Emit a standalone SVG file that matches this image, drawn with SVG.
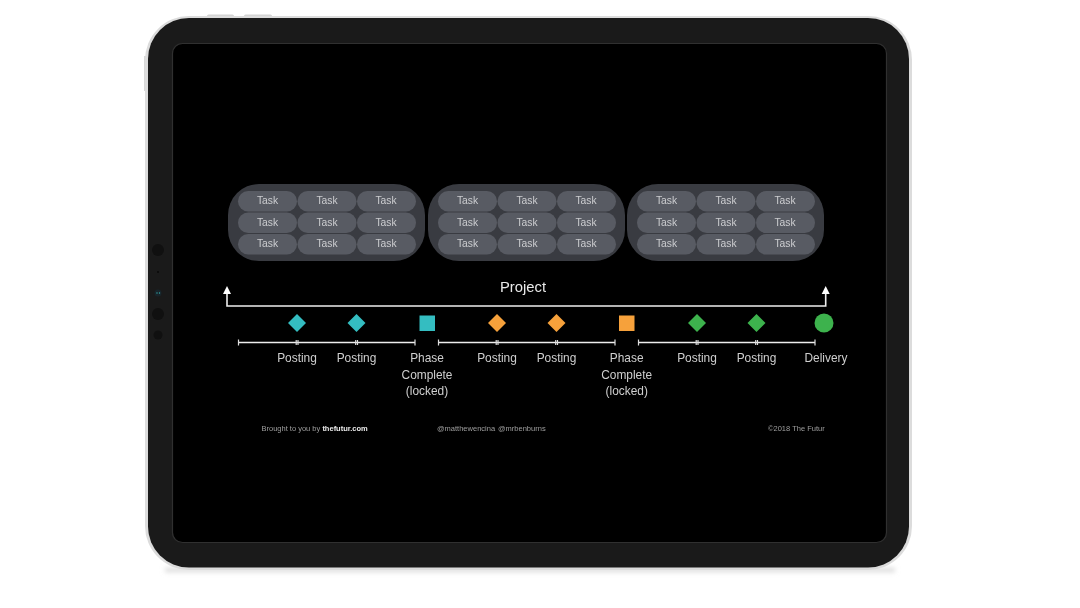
<svg xmlns="http://www.w3.org/2000/svg" width="1080" height="608" viewBox="0 0 1080 608">
<style>
text{font-family:"Liberation Sans",Arial,sans-serif;text-anchor:middle}
.group{fill:#3a3c42}
.pill{fill:#5a5d65}
.task{fill:#cfd0d3;font-size:10.3px}
.lbl{fill:#d2d2d2;font-size:11.9px}
.foot{fill:#a0a0a0;font-size:7.5px}
.line{stroke:#eee;stroke-width:1.6;fill:none}
.tick{stroke:#ddd;stroke-width:1.2;fill:none}
.cam{fill:#101010}
.teal{fill:#35c0c4}.orange{fill:#f9a33c}.green{fill:#3eb54e}
</style>
<defs>
<filter id="blur" x="-10%" y="-300%" width="120%" height="700%"><feGaussianBlur stdDeviation="2.500"/></filter>
<g id="tasks">
<rect class="group" x="0" y="0" width="197" height="77" rx="31" ry="31"/>
<g class="pill">
<rect x="10" y="7" width="59" height="20.500" rx="10.200"/><rect x="69.500" y="7" width="59" height="20.500" rx="10.200"/><rect x="129" y="7" width="59" height="20.500" rx="10.200"/>
<rect x="10" y="28.500" width="59" height="20.500" rx="10.200"/><rect x="69.500" y="28.500" width="59" height="20.500" rx="10.200"/><rect x="129" y="28.500" width="59" height="20.500" rx="10.200"/>
<rect x="10" y="50" width="59" height="20.500" rx="10.200"/><rect x="69.500" y="50" width="59" height="20.500" rx="10.200"/><rect x="129" y="50" width="59" height="20.500" rx="10.200"/>
</g>
<g class="task">
<text x="39.500" y="20">Task</text><text x="99" y="20">Task</text><text x="158" y="20">Task</text>
<text x="39.500" y="41.500">Task</text><text x="99" y="41.500">Task</text><text x="158" y="41.500">Task</text>
<text x="39.500" y="63">Task</text><text x="99" y="63">Task</text><text x="158" y="63">Task</text>
</g>
</g>
<path id="dia" d="M0-9L9 0L0 9L-9 0Z"/>
</defs>
<rect width="1080" height="608" fill="#fff"/>
<g id="tablet">
<rect x="165" y="568" width="730" height="4" fill="#d8d8d8" filter="url(#blur)"/>
<rect x="207" y="14.500" width="27" height="3" rx="1.500" fill="#d4d4d4"/>
<rect x="244" y="14.500" width="28" height="3" rx="1.500" fill="#d4d4d4"/>
<rect x="144" y="56" width="2" height="35" fill="#d8d8d8"/>
<rect x="145" y="16" width="767" height="554" rx="44" fill="#dcdcdc"/>
<rect x="148" y="18" width="761" height="549.500" rx="41" fill="#1a1a1a"/>
<rect x="172.500" y="43.500" width="714" height="499" rx="10" fill="#000" stroke="#303030" stroke-width="1.200"/>
<circle class="cam" cx="158" cy="250" r="6"/>
<circle cx="158" cy="272" r="1" fill="#080808"/>
<circle cx="158" cy="293" r="3.500" fill="#18242a"/>
<circle cx="157" cy="293" r=".7" fill="#3aa"/><circle cx="159.500" cy="293" r=".7" fill="#3aa"/>
<circle class="cam" cx="158" cy="314" r="6"/>
<circle class="cam" cx="158" cy="335" r="4.500"/>
</g>
<g id="phase-1-tasks" opacity=".99"><use href="#tasks" x="228" y="184"/></g>
<g id="phase-2-tasks" opacity=".99"><use href="#tasks" x="428" y="184"/></g>
<g id="phase-3-tasks" opacity=".99"><use href="#tasks" x="627" y="184"/></g>
<g id="connectors">
<path class="line" d="M227 293V306H825.700V293"/>
<path d="M227 286L231 294H223Z" fill="#fff"/>
<path d="M825.700 286L829.700 294H821.700Z" fill="#fff"/>
<path class="line" d="M238.500 342.500H415M438.500 342.500H615M638.500 342.500H815"/>
<path class="tick" d="M238.500 339.500v6M415 339.500v6M438.500 339.500v6M615 339.500v6M638.500 339.500v6M815 339.500v6"/>
<path class="tick" d="M296.200 340v5M298 340v5M355.700 340v5M357.500 340v5M496.200 340v5M498 340v5M555.700 340v5M557.500 340v5M696.200 340v5M698 340v5M755.700 340v5M757.500 340v5"/>
</g>
<g id="project" opacity=".99"><text x="523" y="292" fill="#ececec" font-size="14.800">Project</text></g>
<g id="m1" opacity=".99"><use href="#dia" x="297" y="323" class="teal"/><text class="lbl" x="297" y="362">Posting</text></g>
<g id="m2" opacity=".99"><use href="#dia" x="356.500" y="323" class="teal"/><text class="lbl" x="356.500" y="362">Posting</text></g>
<g id="m3" opacity=".99"><rect class="teal" x="419.500" y="315.500" width="15.500" height="15.500"/><text class="lbl" x="427" y="362">Phase</text><text class="lbl" x="427" y="378.500">Complete</text><text class="lbl" x="427" y="395">(locked)</text></g>
<g id="m4" opacity=".99"><use href="#dia" x="497" y="323" class="orange"/><text class="lbl" x="497" y="362">Posting</text></g>
<g id="m5" opacity=".99"><use href="#dia" x="556.500" y="323" class="orange"/><text class="lbl" x="556.500" y="362">Posting</text></g>
<g id="m6" opacity=".99"><rect class="orange" x="619" y="315.500" width="15.500" height="15.500"/><text class="lbl" x="626.700" y="362">Phase</text><text class="lbl" x="626.700" y="378.500">Complete</text><text class="lbl" x="626.700" y="395">(locked)</text></g>
<g id="m7" opacity=".99"><use href="#dia" x="697" y="323" class="green"/><text class="lbl" x="697" y="362">Posting</text></g>
<g id="m8" opacity=".99"><use href="#dia" x="756.500" y="323" class="green"/><text class="lbl" x="756.500" y="362">Posting</text></g>
<g id="m9" opacity=".99"><circle class="green" cx="824" cy="323" r="9.500"/><text class="lbl" x="826" y="362">Delivery</text></g>
<g id="footer" opacity=".99">
<text class="foot" x="261.500" y="431" style="text-anchor:start">Brought to you by <tspan fill="#eee" font-weight="700">thefutur.com</tspan></text>
<text class="foot" x="437" y="431" style="text-anchor:start">@matthewencina</text>
<text class="foot" x="498" y="431" style="text-anchor:start">@mrbenburns</text>
<text class="foot" x="768" y="431" style="text-anchor:start">©2018 The Futur</text>
</g>
</svg>
